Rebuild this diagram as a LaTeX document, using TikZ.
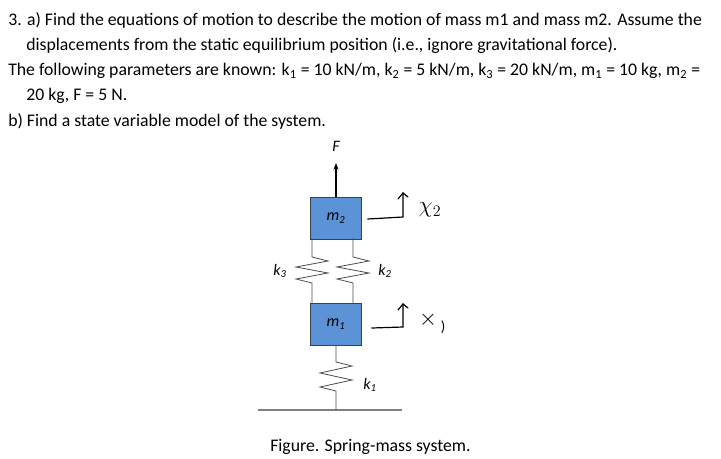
\documentclass[tikz,border=0pt]{standalone}
\usepackage{fontspec}
\usetikzlibrary{arrows.meta}
\setmainfont{Carlito}
\begin{document}
\begin{tikzpicture}[x=0.75pt,y=-0.75pt,
  txt/.style={anchor=west,inner sep=0pt,font=\fontsize{13.3}{15}\selectfont},
  mass/.style={draw=black!75,minimum width=38.25pt,minimum height=31.5pt,inner sep=0pt,font=\itshape\fontsize{12}{13}\selectfont},
  lab/.style={font=\itshape\fontsize{12}{13}\selectfont,inner sep=0pt},
  hand/.style={line width=0.9pt,line cap=round},
  spr/.style={black!70,line width=0.6pt}]
\definecolor{massblue}{RGB}{92,146,214}
\useasboundingbox (0,0) rectangle (721,458);
\node[txt] (l1) at (8,20) {3. a) Find the equations of motion to describe the motion of mass m1 and mass m2. Assume the};
\node[txt] (l2) at (26,46) {displacements from the static equilibrium position (i.e., ignore gravitational force).};
\node[txt] (l3) at (8,71) {The following parameters are known: k\textsubscript{1} = 10 kN/m, k\textsubscript{2} = 5 kN/m, k\textsubscript{3} = 20 kN/m, m\textsubscript{1} = 10 kg, m\textsubscript{2} =};
\node[txt] (l4) at (26,96) {20 kg, F = 5 N.};
\node[txt] (l5) at (8,121) {b) Find a state variable model of the system.};
\node[txt] (cap) at (270,447) {Figure. Spring-mass system.};

\node[mass,fill=massblue] (m2) at (336,218) {m\textsubscript{2}};
\node[mass,fill=massblue] (m1) at (336,324) {m\textsubscript{1}};
\coordinate (g1) at (258,410); \coordinate (g2) at (402,410);
\draw[black!50,line width=1.5pt] (g1) -- (g2);
\coordinate (top) at (336,163);
\draw[-{Stealth[length=5pt]},line width=0.8pt] (m2.north) -- (top);
\node[lab] (F) at (336,146) {F};
% springs
\draw[spr] (312,238) -- (312,257) -- (328,261) -- (296,267) -- (328,273) -- (296,279) -- (312,283) -- (312,303);
\draw[spr] (353,238) -- (353,257) -- (369,261) -- (337,267) -- (369,273) -- (337,279) -- (353,283) -- (353,303);
\draw[spr] (336,345) -- (336,362) -- (352,366) -- (320,373) -- (352,380) -- (320,387) -- (336,391) -- (336,410);
\node[lab] (k3) at (280,271) {k\textsubscript{3}};
\node[lab] (k2) at (385,271) {k\textsubscript{2}};
\node[lab] (k1) at (370,385) {k\textsubscript{1}};
% handwritten
\coordinate (a2) at (403,217); \coordinate (b2) at (403,193);
\draw[hand] (m2.east)++(6,1) -- (a2) -- (b2);
\draw[hand] (398,199) -- (b2) -- (408,197);
\node[font=\fontsize{18}{18}\selectfont,inner sep=0pt] (x2) at (430,210) {$\chi_2$};
\coordinate (a1) at (403,327); \coordinate (b1) at (403,304);
\draw[hand] (m1.east)++(10,4) -- (a1) -- (b1);
\draw[hand] (398,310) -- (b1) -- (408,308);
\node[font=\fontsize{18}{18}\selectfont,inner sep=0pt] (x1) at (428,320) {$\times$};
\node[font=\fontsize{11}{11}\selectfont,inner sep=0pt] (x1s) at (443,327) {)};
\end{tikzpicture}
\end{document}
